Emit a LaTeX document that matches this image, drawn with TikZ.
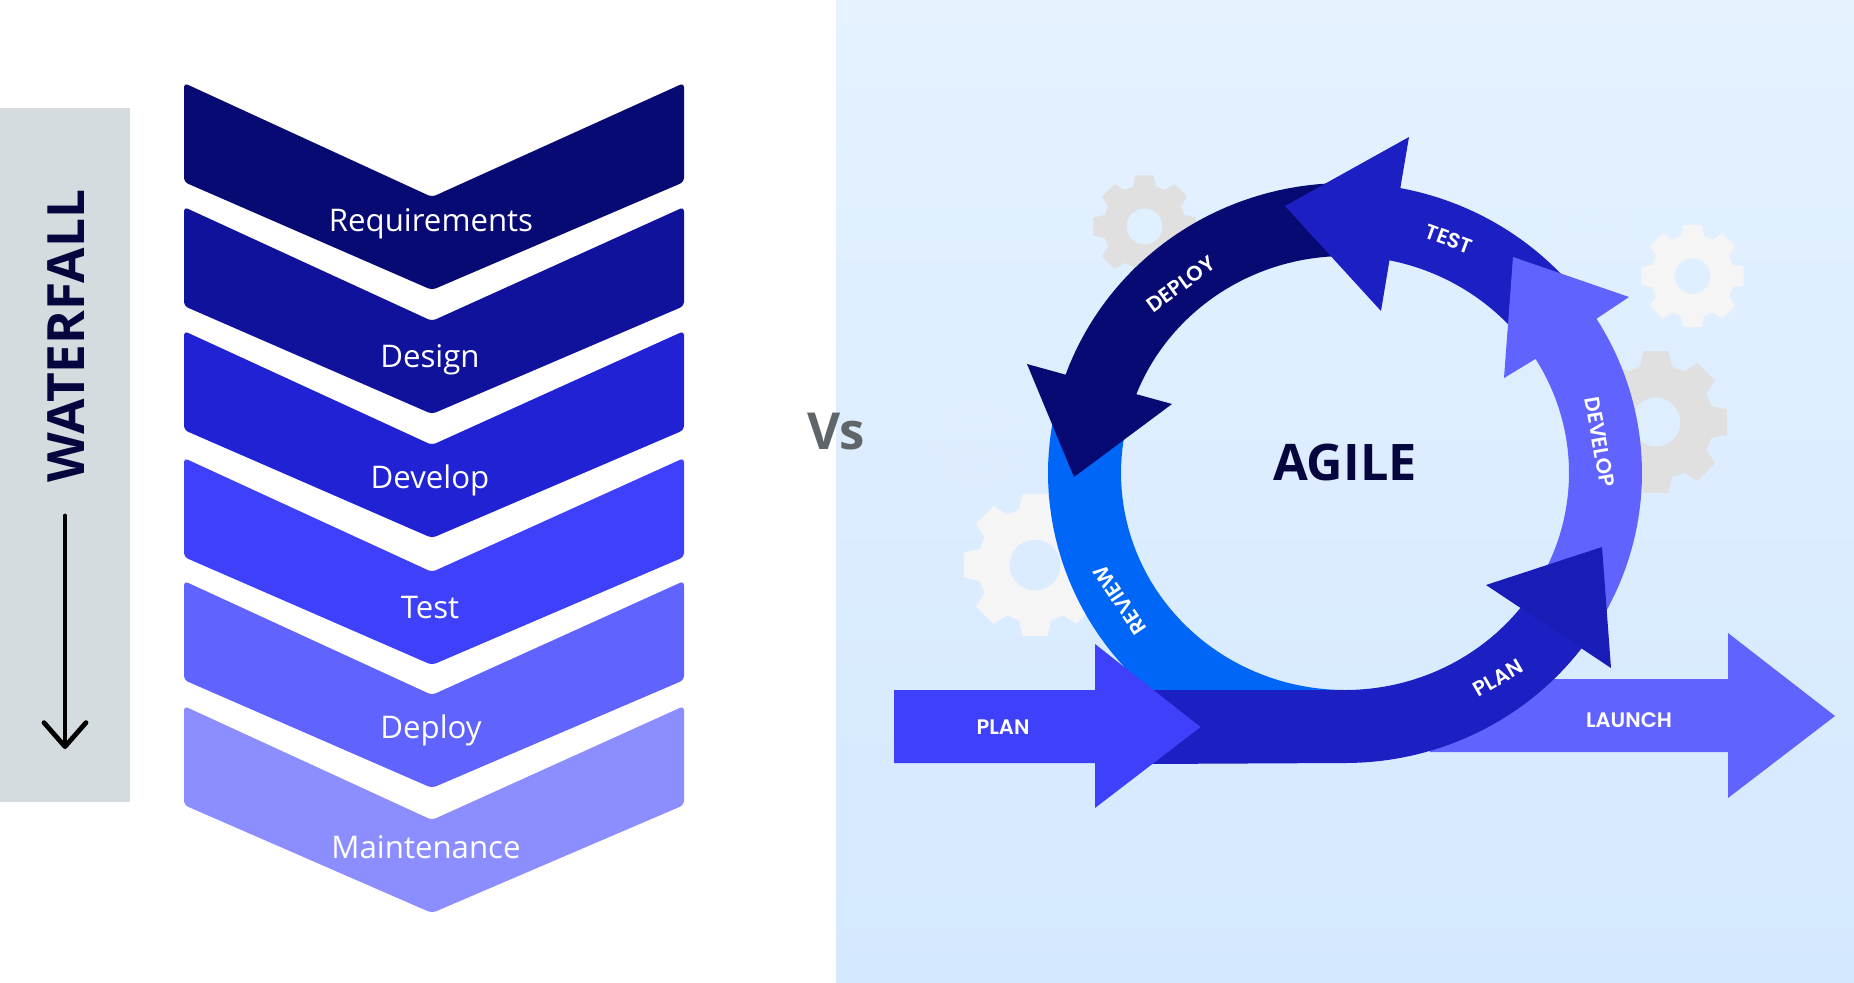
\documentclass[tikz,border=0pt]{standalone}
\usepackage{fontspec}
\setmainfont{Open Sans}
\newfontfamily\ringfont{Poppins SemiBold}
\usetikzlibrary{arrows.meta}

\definecolor{navy}{HTML}{070A72}
\definecolor{stepb}{HTML}{10129B}
\definecolor{stepc}{HTML}{2022D3}
\definecolor{stepd}{HTML}{3F41FA}
\definecolor{stepe}{HTML}{6163FF}
\definecolor{stepf}{HTML}{8C8EFF}
\definecolor{barfill}{HTML}{D5DCDF}
\definecolor{inkdark}{HTML}{06063F}
\definecolor{vsgray}{HTML}{5F6569}
\definecolor{paneltop}{HTML}{E5F2FF}
\definecolor{panelbot}{HTML}{D4E8FF}
\definecolor{gearmid}{HTML}{E0E0E0}
\definecolor{gearpale}{HTML}{F5F5F5}
\definecolor{gearline}{HTML}{E8EFF8}
\definecolor{testblue}{HTML}{1C1FC2}
\definecolor{planhead}{HTML}{1A1CB8}
\definecolor{reviewblue}{HTML}{0066F7}

% gear: x, y, outer radius, hole radius, draw options
\newcommand{\gearshape}[5]{
  \begin{scope}[shift={(#1,#2)}]
    \path[#5, even odd rule] (-16:0.8*#3)
      \foreach \a in {0,45,...,315} {
        -- ({\a-16}:0.8*#3) -- ({\a-10}:#3) -- ({\a+10}:#3) -- ({\a+16}:0.8*#3)
      } -- cycle (0,0) circle[radius=#4];
  \end{scope}
}
% ring band: colour, start angle, end angle
\newcommand{\ringband}[3]{
  \fill[#1] plot[domain=#2:#3,samples=50] ({1345+224*cos(\x)},{473+217*sin(\x)})
    -- plot[domain=#3:#2,samples=50] ({1345+297*cos(\x)},{473+290*sin(\x)}) -- cycle;
}

\begin{document}
\begin{tikzpicture}[
    x=0.5pt, y=-0.5pt,
    steplabel/.style={anchor=base, text=white, font=\fontsize{15.6}{18}\selectfont, inner sep=0pt},
    ringlabel/.style={text=white, font=\ringfont\fontsize{10.5}{12}\selectfont, inner sep=0pt},
    bigtitle/.style={text=inkdark, font=\bfseries\fontsize{25.5}{30}\selectfont, inner sep=0pt},
]
\useasboundingbox (0,0) rectangle (1854,982);
\fill[white] (0,0) rectangle (1854,982);

% right panel
\shade[top color=paneltop, bottom color=panelbot] (836,0) rectangle (1854,982);

% waterfall side bar
\fill[barfill] (0,108) rectangle (130,802);
\node[bigtitle, rotate=90, font=\bfseries\fontsize{25.7}{30}\selectfont] (waterfall) at (66,336) {WATERFALL};
\coordinate (flowtop) at (65,516);
\coordinate (flowend) at (65,749);
\draw[line width=2.4pt, line cap=round, -{Straight Barb[length=12pt,width=21pt,round]}] (flowtop) -- (flowend);

% chevrons
\foreach \ytop/\clr/\base/\txt/\lx/\nm in {
    84/navy/231/Requirements/431/req,
    208/stepb/367/Design/430/des,
    332/stepc/488/Develop/430/dev,
    459/stepd/618/Test/430/tst,
    582/stepe/738/Deploy/431/dep,
    707/stepf/858/Maintenance/426/mnt} {
  \fill[\clr, rounded corners=2pt] (184,\ytop-1) -- (432,\ytop+113) -- (684,\ytop-1)
    -- (684,\ytop+98) -- (432,\ytop+206) -- (184,\ytop+98) -- cycle;
  \node[steplabel] (\nm) at (\lx,\base) {\txt};
}

% gears behind the ring
\gearshape{1144.5}{226.5}{52}{18}{fill=gearmid}
\gearshape{1692.5}{276}{52}{18}{fill=gearpale}
\gearshape{1656}{422}{72}{24.5}{fill=gearmid}
\gearshape{1035}{565}{72}{25.5}{fill=gearpale}
\gearshape{1592}{205}{39}{14.5}{draw=gearline, line width=0.3pt}
\gearshape{977}{443}{39}{14.5}{draw=gearline, line width=0.3pt}

% launch arrow
\fill[stepe] (1430,679) -- (1728,679) -- (1728,633) -- (1835,716) -- (1728,798)
  -- (1728,752) -- (1430,752) -- cycle;

% review band
\ringband{reviewblue}{90}{195}

% plan band
\fill[testblue] (1145,690) -- (1345,690)
  -- plot[domain=90:35,samples=40] ({1345+224*cos(\x)},{473+217*sin(\x)})
  -- plot[domain=35:90,samples=40] ({1345+297*cos(\x)},{473+290*sin(\x)})
  -- (1145,764) -- cycle;

% develop band and plan head
\ringband{stepe}{-34}{35}
\fill[planhead] (1602,547) -- (1486,585) -- (1611,668) -- cycle;

% deploy and test bands
\ringband{navy}{199}{270}
\ringband{testblue}{280}{320}
\fill[testblue] (1285,206) -- (1409,137) -- (1401,184) -- (1390,257) -- (1381,311) -- cycle;

% develop and deploy heads
\fill[stepe] (1513,257) -- (1629,297) -- (1599,317) -- (1537,358) -- (1504,378) -- cycle;
\fill[navy] (1027,364) -- (1172,404) -- (1074,477) -- cycle;

% plan arrow
\fill[stepd] (894,690) -- (1095,690) -- (1095,644) -- (1200.5,727) -- (1095,808)
  -- (1095,763) -- (894,763) -- cycle;

% texts
\node[bigtitle, font=\bfseries\fontsize{25.2}{30}\selectfont] (agile) at (1345,462) {AGILE};
\node[bigtitle, text=vsgray] (vs) at (836,432) {Vs};
\node[ringlabel] (plana) at (1003,727) {PLAN};
\node[ringlabel] (launch) at (1629,720) {LAUNCH};
\node[ringlabel, rotate=30] (planb) at (1498,678) {PLAN};
\node[ringlabel, rotate=124] (review) at (1120,600) {REVIEW};
\node[ringlabel, rotate=36] (deploy) at (1181,284) {DEPLOY};
\node[ringlabel, rotate=-20] (test) at (1449,239) {TEST};
\node[ringlabel, rotate=-80] (develop) at (1600,442) {DEVELOP};

\end{tikzpicture}
\end{document}
